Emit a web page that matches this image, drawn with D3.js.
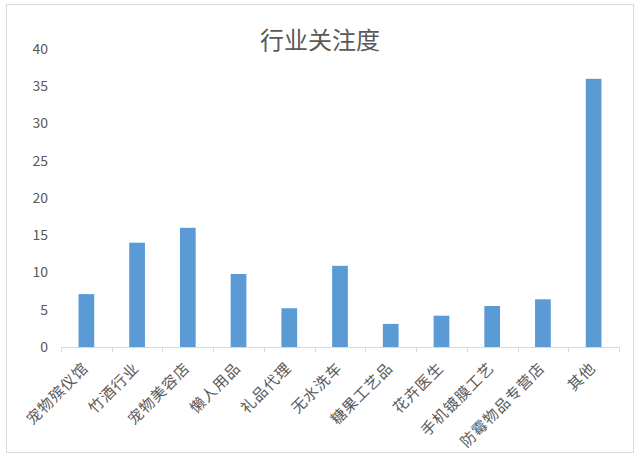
<!DOCTYPE html>
<html><head><meta charset="utf-8">
<script src="https://cdn.jsdelivr.net/npm/d3@7"></script>
<style>body{margin:0;background:#fff}svg{display:block}</style>
</head><body>
<svg id="chart" width="640" height="461"></svg>
<script>
const categories = ["宠物殡仪馆","竹酒行业","宠物美容店","懒人用品","礼品代理","无水洗车","糖果工艺品","花卉医生","手机镀膜工艺","防霉物品专营店","其他"];
const values = [7.1, 14.0, 16.0, 9.8, 5.2, 10.9, 3.1, 4.2, 5.5, 6.4, 36.0];
const yTicks = [0,5,10,15,20,25,30,35,40];
const title = "行业关注度";

const svg = d3.select("#chart");
const font = "'Noto Sans CJK SC','Microsoft YaHei',sans-serif";
svg.append("rect").attr("x",6.5).attr("y",4.5).attr("width",627).attr("height",448)
  .attr("fill","#fff").attr("stroke","#d9d9d9");

const x = d3.scaleBand().domain(categories).range([61,619]).paddingInner(0.69).paddingOuter(0.345);
const y = d3.scaleLinear().domain([0,40]).range([347,49]);

svg.append("text").attr("x",320).attr("y",49).attr("text-anchor","middle")
  .attr("font-family",font).attr("font-size",24).attr("fill","#595959").text(title);

svg.selectAll("rect.bar").data(values).join("rect").attr("class","bar")
  .attr("x",(d,i)=>x(categories[i])).attr("width",x.bandwidth())
  .attr("y",d=>y(d)).attr("height",d=>y(0)-y(d)).attr("fill","#5B9BD5");

const ya = svg.append("g").attr("transform","translate(48,0)")
  .call(d3.axisLeft(y).tickValues(yTicks).tickSize(0).tickPadding(0));
ya.select(".domain").remove();
ya.selectAll("text").attr("font-family",font).attr("font-size",14).attr("fill","#595959");

// x axis line and boundary ticks
svg.append("line").attr("x1",61).attr("x2",619).attr("y1",347.5).attr("y2",347.5).attr("stroke","#d9d9d9");
const bounds = d3.range(categories.length+1).map(i=>x.range()[0]+i*x.step());
svg.selectAll("line.tk").data(bounds).join("line").attr("class","tk")
  .attr("x1",d=>Math.round(d)+0.5).attr("x2",d=>Math.round(d)+0.5).attr("y1",347).attr("y2",352).attr("stroke","#d9d9d9");

svg.selectAll("text.xl").data(categories).join("text").attr("class","xl")
  .attr("transform",d=>`translate(${x(d)+x.bandwidth()/2+3},369) rotate(-45)`)
  .attr("text-anchor","end").attr("font-family",font).attr("font-size",15)
  .attr("letter-spacing",1).attr("fill","#595959")
  .text(d=>d);
</script>
</body></html>
